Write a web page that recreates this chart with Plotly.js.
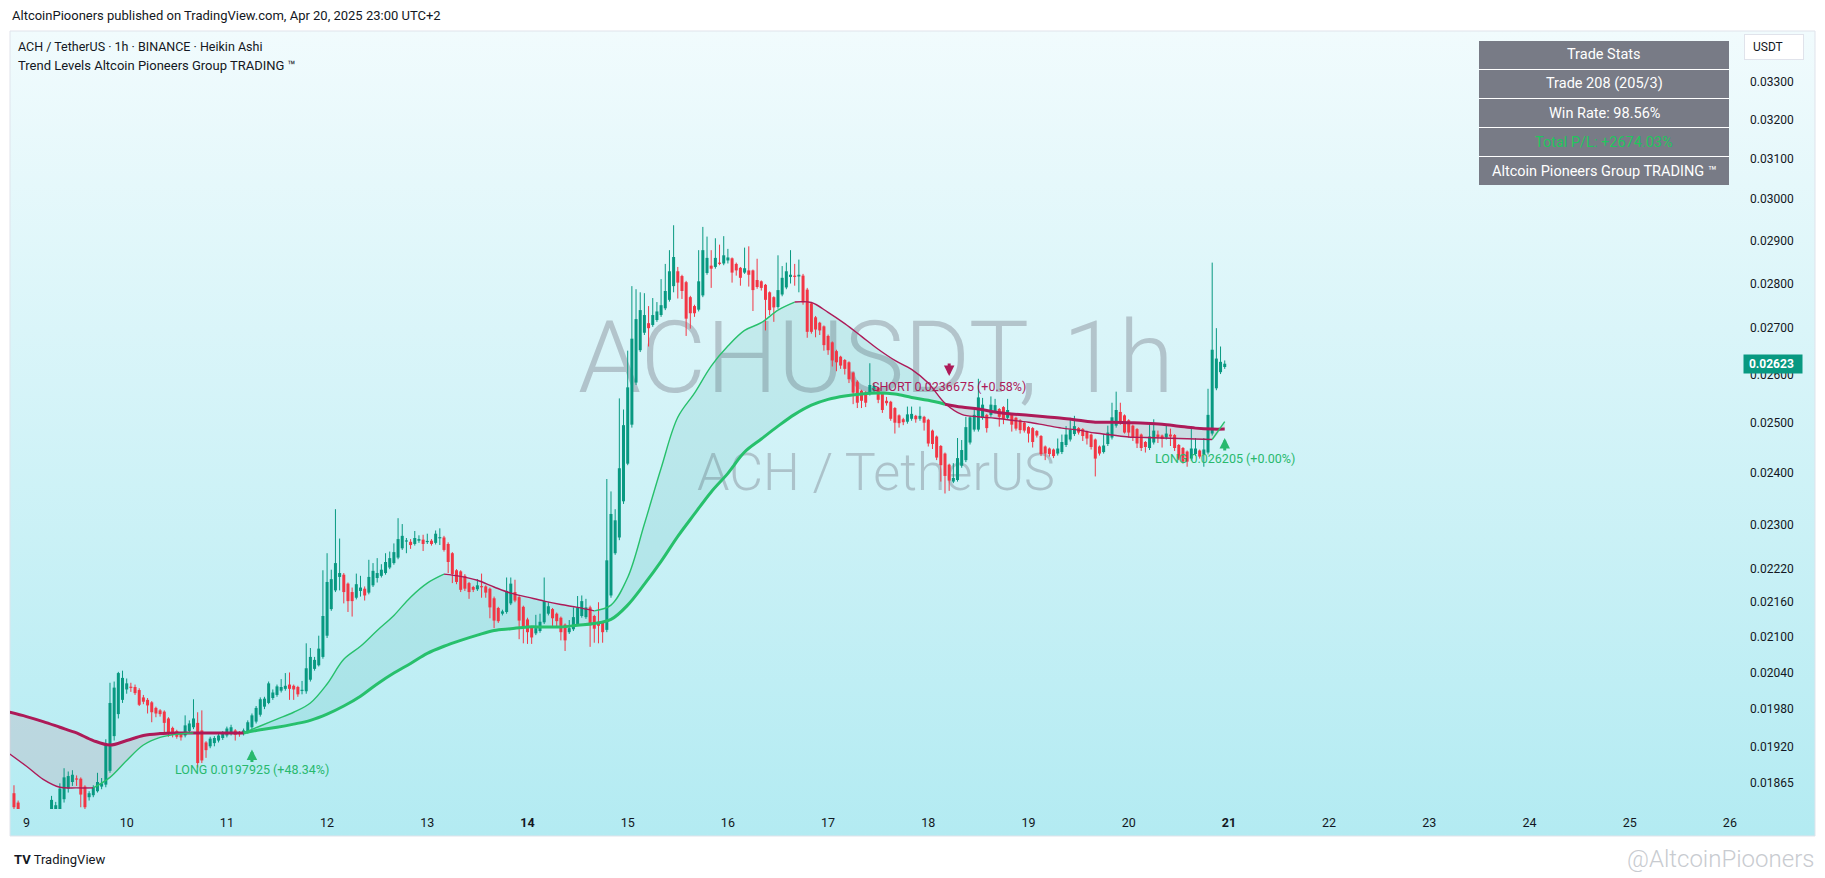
<!DOCTYPE html>
<html><head><meta charset="utf-8">
<script src="https://cdn.plot.ly/plotly-3.0.1.min.js"></script>
<style>
html,body{margin:0;padding:0;background:#fff;width:1825px;height:878px;overflow:hidden;}
#bg{position:absolute;left:10px;top:31px;width:1805px;height:805px;background:linear-gradient(to bottom,#f1fbfd 0%,#b3ebf2 100%);}
#chart{position:absolute;left:0;top:0;width:1825px;height:878px;}
</style></head><body>
<div id="bg"></div><div id="chart"></div>
<script>
// ---------------- DATA ----------------
// Heikin Ashi 1h candles, ACH/USDT, from 2025-04-08 21:00 to 2025-04-20 23:00
const open = [
.01849,.01835,.01820,
.01803,.01787,.01775,.01782,.01791,.01786,.01800,.01818,.01825,.01840,.01856,.01866,.01871,.01871,.01859,.01843,.01846,.01852,.01859,.01862,.01883,.01937,.01972,.01995,
.02012,.02016,.02016,.02011,.01999,.01995,.01991,.01982,.01978,.01976,.01965,.01950,.01945,.01941,.01938,.01945,.01951,.01958,.01946,.01927,.01921,.01926,.01930,.01934,
.01938,.01941,.01946,.01943,.01941,.01944,.01951,.01960,.01971,.01984,.01990,.01998,.02003,.02010,.02013,.02020,.02018,.02016,.02010,.02009,.02028,.02046,.02052,.02066,
.02102,.02148,.02181,.02205,.02209,.02193,.02178,.02168,.02180,.02184,.02177,.02190,.02203,.02207,.02212,.02222,.02230,.02240,.02257,.02270,.02269,.02265,.02271,.02273,
.02269,.02271,.02267,.02276,.02277,.02265,.02248,.02217,.02215,.02207,.02194,.02187,.02183,.02188,.02188,.02184,.02167,.02150,.02140,.02143,.02158,.02178,.02169,.02152,
.02130,.02117,.02106,.02110,.02125,.02140,.02148,.02140,.02133,.02121,.02108,.02113,.02122,.02136,.02134,.02151,.02136,.02126,.02124,.02112,.02172,.02248,.02277,.02345,
.02418,.02496,.02583,.02652,.02690,.02711,.02707,.02718,.02729,.02744,.02763,.02794,.02828,.02817,.02803,.02769,.02749,.02741,.02773,.02824,.02841,.02838,.02848,.02846,
.02853,.02858,.02845,.02836,.02825,.02830,.02830,.02808,.02805,.02797,.02780,.02769,.02747,.02775,.02791,.02815,.02818,.02816,.02818,.02786,.02755,.02724,.02712,.02704,
.02683,.02669,.02650,.02638,.02631,.02626,.02604,.02585,.02566,.02562,.02560,.02566,.02572,.02560,.02545,.02543,.02530,.02515,.02507,.02502,.02508,.02514,.02508,.02512,
.02506,.02484,.02472,.02453,.02438,.02416,.02383,.02386,.02414,.02425,.02460,.02486,.02486,.02510,.02516,.02516,.02522,.02528,.02532,.02510,.02516,.02510,.02505,.02500,
.02491,.02489,.02483,.02473,.02452,.02448,.02446,.02438,.02441,.02455,.02466,.02477,.02489,.02487,.02482,.02476,.02466,.02452,.02441,.02457,.02470,.02494,.02522,.02515,
.02505,.02494,.02487,.02476,.02461,.02449,.02460,.02476,.02474,.02470,.02476,.02475,.02455,.02449,.02442,.02428,.02437,.02444,.02436,.02440,.02478,.02571,.02605,.02616
];
const high = [
.01861,.01838,.01823,
.01810,.01795,.01800,.01812,.01808,.01815,.01845,.01836,.01864,.01887,.01882,.01884,.01876,.01873,.01861,.01852,.01861,.01880,.01872,.01932,.02023,.02025,.02041,.02043,
.02030,.02023,.02020,.02014,.02003,.01998,.01993,.01984,.01980,.01978,.01967,.01952,.01947,.01943,.01970,.01962,.01996,.01975,.01978,.01929,.01936,.01937,.01941,.01945,
.01952,.01955,.01948,.01945,.01949,.01962,.01973,.01985,.01999,.02000,.02025,.02012,.02020,.02029,.02039,.02040,.02020,.02018,.02026,.02089,.02081,.02066,.02102,.02217,
.02248,.02218,.02330,.02275,.02212,.02195,.02186,.02211,.02207,.02188,.02236,.02230,.02239,.02228,.02248,.02251,.02266,.02313,.02302,.02276,.02274,.02289,.02281,.02282,
.02284,.02274,.02290,.02294,.02280,.02268,.02250,.02219,.02217,.02210,.02196,.02189,.02201,.02211,.02190,.02186,.02170,.02152,.02147,.02204,.02204,.02200,.02172,.02154,
.02133,.02119,.02138,.02140,.02204,.02160,.02150,.02142,.02135,.02123,.02129,.02151,.02171,.02172,.02166,.02154,.02138,.02160,.02126,.02388,.02364,.02330,.02550,.02527,
.02651,.02794,.02787,.02780,.02778,.02749,.02767,.02758,.02810,.02845,.02877,.02936,.02838,.02820,.02806,.02772,.02752,.02877,.02932,.02909,.02877,.02905,.02890,.02910,
.02880,.02860,.02848,.02838,.02883,.02886,.02832,.02857,.02807,.02799,.02782,.02771,.02865,.02840,.02848,.02877,.02845,.02855,.02822,.02790,.02758,.02727,.02714,.02706,
.02686,.02671,.02653,.02640,.02633,.02628,.02606,.02588,.02568,.02565,.02624,.02582,.02574,.02562,.02553,.02545,.02532,.02517,.02510,.02533,.02533,.02516,.02533,.02514,
.02508,.02486,.02474,.02455,.02440,.02418,.02419,.02469,.02465,.02512,.02513,.02526,.02591,.02551,.02518,.02554,.02549,.02530,.02534,.02549,.02518,.02512,.02507,.02502,
.02493,.02491,.02485,.02475,.02454,.02450,.02448,.02468,.02476,.02493,.02510,.02514,.02491,.02489,.02484,.02478,.02468,.02454,.02477,.02494,.02541,.02564,.02541,.02517,
.02507,.02496,.02489,.02478,.02463,.02497,.02507,.02484,.02476,.02495,.02488,.02477,.02457,.02451,.02444,.02490,.02469,.02446,.02469,.02570,.02848,.02700,.02660,.02630
];
const low = [
.01818,.01800,.01775,
.01760,.01755,.01760,.01770,.01770,.01775,.01795,.01810,.01818,.01835,.01850,.01860,.01860,.01828,.01825,.01838,.01843,.01850,.01855,.01858,.01880,.01930,.01965,.01990,
.02005,.02008,.02003,.01985,.01988,.01973,.01959,.01967,.01968,.01942,.01936,.01935,.01933,.01930,.01935,.01942,.01948,.01888,.01895,.01903,.01918,.01921,.01927,.01931,
.01935,.01938,.01930,.01936,.01938,.01941,.01948,.01957,.01968,.01980,.01988,.01995,.02000,.02007,.02010,.01995,.01995,.02000,.02004,.02005,.02025,.02043,.02050,.02063,
.02098,.02145,.02178,.02181,.02158,.02143,.02135,.02165,.02170,.02163,.02174,.02187,.02195,.02204,.02209,.02219,.02227,.02237,.02254,.02248,.02256,.02262,.02267,.02252,
.02265,.02262,.02264,.02263,.02251,.02212,.02194,.02192,.02178,.02180,.02166,.02178,.02180,.02168,.02168,.02132,.02115,.02124,.02137,.02140,.02155,.02160,.02096,.02089,
.02088,.02088,.02103,.02107,.02122,.02137,.02118,.02117,.02094,.02076,.02105,.02110,.02119,.02133,.02131,.02083,.02090,.02089,.02090,.02108,.02168,.02245,.02272,.02340,
.02415,.02490,.02578,.02648,.02685,.02660,.02703,.02714,.02725,.02740,.02759,.02780,.02766,.02765,.02683,.02699,.02725,.02737,.02769,.02820,.02790,.02834,.02842,.02842,
.02846,.02802,.02818,.02795,.02822,.02793,.02738,.02788,.02784,.02695,.02729,.02714,.02743,.02771,.02787,.02800,.02795,.02780,.02752,.02679,.02688,.02680,.02685,.02651,
.02642,.02617,.02607,.02612,.02600,.02582,.02538,.02530,.02530,.02532,.02556,.02562,.02540,.02520,.02535,.02504,.02478,.02490,.02495,.02498,.02504,.02500,.02504,.02484,
.02452,.02447,.02425,.02383,.02360,.02365,.02380,.02383,.02410,.02421,.02456,.02482,.02482,.02506,.02480,.02512,.02519,.02492,.02497,.02506,.02482,.02484,.02478,.02480,
.02460,.02450,.02470,.02433,.02425,.02432,.02429,.02434,.02437,.02451,.02462,.02473,.02476,.02463,.02456,.02446,.02393,.02434,.02438,.02453,.02466,.02490,.02496,.02478,
.02470,.02463,.02449,.02443,.02440,.02445,.02456,.02459,.02450,.02466,.02453,.02443,.02425,.02418,.02412,.02424,.02433,.02428,.02412,.02436,.02474,.02567,.02601,.02612
];
const close = [
.01828,.01805,.01785,
.01770,.01762,.01790,.01800,.01780,.01805,.01839,.01831,.01856,.01873,.01875,.01877,.01870,.01847,.01828,.01849,.01858,.01866,.01864,.01924,.01990,.02015,.02039,.02031,
.02022,.02015,.02006,.01987,.01992,.01986,.01975,.01973,.01972,.01958,.01942,.01939,.01936,.01935,.01954,.01957,.01965,.01895,.01899,.01915,.01933,.01934,.01938,.01942,
.01949,.01951,.01939,.01940,.01946,.01959,.01970,.01982,.01996,.01997,.02022,.02007,.02017,.02016,.02018,.02013,.02012,.02004,.02011,.02047,.02066,.02061,.02080,.02136,
.02196,.02201,.02230,.02212,.02178,.02162,.02162,.02192,.02186,.02172,.02205,.02216,.02212,.02218,.02232,.02239,.02250,.02274,.02280,.02271,.02263,.02276,.02274,.02265,
.02270,.02265,.02284,.02277,.02254,.02232,.02210,.02196,.02182,.02184,.02178,.02182,.02190,.02187,.02177,.02151,.02128,.02127,.02144,.02180,.02193,.02163,.02128,.02118,
.02108,.02099,.02115,.02126,.02162,.02153,.02132,.02127,.02108,.02094,.02115,.02134,.02151,.02162,.02151,.02120,.02114,.02119,.02108,.02235,.02321,.02309,.02409,.02495,
.02573,.02677,.02720,.02740,.02729,.02700,.02729,.02737,.02751,.02783,.02828,.02861,.02802,.02783,.02721,.02733,.02733,.02805,.02877,.02859,.02834,.02859,.02845,.02865,
.02860,.02825,.02830,.02813,.02835,.02820,.02785,.02792,.02790,.02763,.02740,.02746,.02785,.02813,.02828,.02820,.02815,.02820,.02757,.02692,.02692,.02697,.02695,.02663,
.02652,.02630,.02626,.02619,.02612,.02590,.02562,.02541,.02545,.02541,.02578,.02576,.02547,.02526,.02540,.02508,.02500,.02499,.02501,.02517,.02518,.02507,.02514,.02500,
.02458,.02457,.02430,.02415,.02394,.02385,.02390,.02429,.02445,.02491,.02511,.02516,.02552,.02537,.02489,.02537,.02536,.02512,.02508,.02526,.02496,.02488,.02485,.02484,
.02478,.02461,.02474,.02437,.02438,.02437,.02433,.02448,.02461,.02476,.02486,.02493,.02480,.02473,.02468,.02451,.02428,.02438,.02454,.02480,.02511,.02526,.02500,.02480,
.02480,.02471,.02458,.02449,.02451,.02472,.02484,.02471,.02467,.02478,.02472,.02449,.02428,.02422,.02422,.02448,.02448,.02432,.02446,.02516,.02653,.02634,.02627,.02623
];
// Trend Levels moving averages, read every 4 hours from 2025-04-08 20:00 (last point = last bar)
const maFast = [.01909,.01890,.01870,.01858,.01857,.01857,.01873,.01899,.01923,.01935,.01940,.01942,.01942,.01942,.01942,.01953,.01964,.01975,.01990,.02021,.02062,.02084,.02111,.02137,.02169,.02194,.02210,.02206,.02199,.02187,.02176,.02169,.02162,.02156,.02151,.02145,.02155,.02204,.02302,.02409,.02511,.02561,.02618,.02661,.02695,.02712,.02740,.02758,.02757,.02735,.02710,.02682,.02654,.02630,.02611,.02582,.02540,.02517,.02512,.02509,.02505,.02501,.02495,.02489,.02485,.02479,.02475,.02471,.02470,.02469,.02468,.02467,.02466,.02502];
const maSlow = [.01975,.01968,.01960,.01951,.01942,.01930,.01923,.01930,.01938,.01941,.01942,.01942,.01942,.01942,.01942,.01947,.01951,.01956,.01962,.01972,.01985,.02001,.02021,.02039,.02055,.02072,.02084,.02094,.02103,.02111,.02114,.02117,.02117,.02117,.02120,.02123,.02130,.02155,.02192,.02233,.02279,.02321,.02363,.02399,.02441,.02467,.02493,.02517,.02536,.02548,.02555,.02559,.02561,.02559,.02552,.02546,.02538,.02532,.02528,.02522,.02518,.02515,.02512,.02509,.02505,.02501,.02501,.02500,.02499,.02497,.02493,.02489,.02487,.02487];
// Trade signals
const signalType  = ['LONG', 'SHORT', 'LONG'];
const signalTime  = ['2025-04-11 06:00', '2025-04-18 05:00', '2025-04-20 23:00'];
const signalPrice = [0.0197925, 0.0236675, 0.026205];
const signalPct   = ['+48.34%', '+0.58%', '+0.00%'];
// Axis ticks
const priceTicks = [0.01865,0.0192,0.0198,0.0204,0.021,0.0216,0.0222,0.023,0.024,0.025,0.026,0.027,0.028,0.029,0.030,0.031,0.032,0.033];
const dayTicks = ['2025-04-09','2025-04-10','2025-04-11','2025-04-12','2025-04-13','2025-04-14','2025-04-15','2025-04-16','2025-04-17','2025-04-18','2025-04-19','2025-04-20','2025-04-21','2025-04-22','2025-04-23','2025-04-24','2025-04-25','2025-04-26'];
const dayLabels = ['9','10','11','12','13','14','15','16','17','18','19','20','21','22','23','24','25','26'];
const lastPrice = 0.02623;
const statsRows = ['Trade Stats','Trade 208 (205/3)','Win Rate: 98.56%','Total P/L: +2674.03%','Altcoin Pioneers Group TRADING \u2122'];

// ---------------- STYLE / LAYOUT ----------------
const UP='#089981', DN='#f23645', MA_UP='#27c06c', MA_DN='#ad1a58', LONG_C='#28b96e';
const FILL_UP='rgba(38,166,154,0.13)', FILL_DN='rgba(190,165,180,0.30)';
const WM='rgba(120,123,134,0.40)';
const FONT='Roboto, "Noto Sans", sans-serif';
const PL=10, PR=1742, PT=31, PB=809;
const px2x = px => (px-PL)/(PR-PL);
const px2y = py => (PB-py)/(PB-PT);
const H=3600e3;
const fmt = ms => new Date(ms).toISOString().slice(0,16).replace('T',' ');
const firstBar = Date.UTC(2025,3,8,21);
const times = close.map((_,i)=>fmt(firstBar+i*H));
const maStart = Date.UTC(2025,3,8,20);
const maTimes = maFast.map((_,i)=> i<maFast.length-1 ? fmt(maStart+4*i*H) : times[times.length-1]);
const xr=[Date.UTC(2025,3,8,20,3), Date.UTC(2025,3,26,2,54)];
const yr=[0.018254, 0.03439];
const ylog=[Math.log10(yr[0]), Math.log10(yr[1])];
const pyToPrice = py => Math.pow(10, ylog[1] - (py-PT)/(PB-PT)*(ylog[1]-ylog[0]));
const xMid = fmt((xr[0]+xr[1])/2);

const traces=[];
// watermark (drawn first, under everything)
traces.push({type:'scatter',mode:'text',x:[xMid],y:[pyToPrice(367)],text:['ACHUSDT, 1h'],textposition:'middle center',
  textfont:{family:FONT,size:101,weight:300,color:WM},hoverinfo:'skip',cliponaxis:false});
traces.push({type:'scatter',mode:'text',x:[xMid],y:[pyToPrice(477)],text:['ACH / TetherUS'],textposition:'middle center',
  textfont:{family:FONT,size:52,weight:300,color:WM},hoverinfo:'skip',cliponaxis:false});

function runs(n,key){const out=[];let s=0;for(let i=1;i<=n;i++){if(i===n||key(i)!==key(s)){out.push([s,i,key(s)]);s=i;}}return out;}
const nSeg = maFast.length-1;
const bull = i => (maFast[i]+maFast[i+1]) > (maSlow[i]+maSlow[i+1]);
// fills between the two averages
runs(nSeg,bull).forEach(([s,e,b])=>{
  traces.push({type:'scatter',mode:'lines',x:maTimes.slice(s,e+1),y:maSlow.slice(s,e+1),line:{width:0,shape:'spline'},hoverinfo:'skip'});
  traces.push({type:'scatter',mode:'lines',x:maTimes.slice(s,e+1),y:maFast.slice(s,e+1),line:{width:0,shape:'spline'},fill:'tonexty',fillcolor:b?FILL_UP:FILL_DN,hoverinfo:'skip'});
});

// candles
const wick={up:{x:[],y:[]},dn:{x:[],y:[]}}, body={up:{x:[],y:[]},dn:{x:[],y:[]}};
const minR=Math.exp(1.2/1228);
close.forEach((c,i)=>{
  const o=open[i], k=c>=o?'up':'dn';
  wick[k].x.push(times[i],times[i],null); wick[k].y.push(low[i],high[i],null);
  let lo=Math.min(o,c), hi=Math.max(o,c);
  if(hi/lo<minR){const m=Math.sqrt(lo*hi); lo=m/Math.sqrt(minR); hi=m*Math.sqrt(minR);}
  body[k].x.push(times[i],times[i],null); body[k].y.push(lo,hi,null);
});
[['up',UP],['dn',DN]].forEach(([k,col])=>{
  traces.push({type:'scatter',mode:'lines',x:wick[k].x,y:wick[k].y,line:{color:col,width:1},hoverinfo:'skip',connectgaps:false});
  traces.push({type:'scatter',mode:'lines',x:body[k].x,y:body[k].y,line:{color:col,width:3},hoverinfo:'skip',connectgaps:false});
});

// average lines
runs(nSeg,bull).forEach(([s,e,b])=>{
  traces.push({type:'scatter',mode:'lines',x:maTimes.slice(s,e+1),y:maSlow.slice(s,e+1),line:{width:3,color:b?MA_UP:MA_DN,shape:'spline'},hoverinfo:'skip'});
});
runs(nSeg,i=>maFast[i+1]>maFast[i]).forEach(([s,e,r])=>{
  traces.push({type:'scatter',mode:'lines',x:maTimes.slice(s,e+1),y:maFast.slice(s,e+1),line:{width:1.4,color:r?MA_UP:MA_DN,shape:'spline'},hoverinfo:'skip'});
});

// annotations
const ann=[];
const txt=(x,y,text,opt={})=>ann.push(Object.assign({xref:'paper',yref:'paper',x:px2x(x),y:px2y(y),text,showarrow:false,xanchor:'left',yanchor:'middle',font:{family:FONT,size:12,color:'#131722'}},opt));
txt(10,15,'AltcoinPiooners published on TradingView.com, Apr 20, 2025 23:00 UTC+2',{font:{family:FONT,size:13,color:'#131722'}});
txt(16,47,'ACH / TetherUS \u00b7 1h \u00b7 BINANCE \u00b7 Heikin Ashi',{font:{family:FONT,size:12.5,color:'#131722'}});
txt(16,66,'Trend Levels Altcoin Pioneers Group TRADING \u2122',{font:{family:FONT,size:13,color:'#131722'}});
// signal labels (offsets in px relative to entry price)
const sigArrow=[-40,114,-73], sigText=[-60,103,-94];
signalType.forEach((t,i)=>{
  const col = t==='LONG'?LONG_C:MA_DN;
  const yv = Math.log10(signalPrice[i]);
  ann.push({xref:'x',yref:'y',x:signalTime[i],y:yv,yshift:sigText[i],text:`${t} ${signalPrice[i]} (${signalPct[i]})`,showarrow:false,xanchor:'center',yanchor:'middle',font:{family:FONT,size:12.5,color:col}});
  ann.push({xref:'x',yref:'y',x:signalTime[i],y:yv,yshift:sigArrow[i],text:'',showarrow:true,ax:0,ay:t==='LONG'?14:-14,arrowhead:2,arrowsize:0.7,arrowwidth:3,arrowcolor:col,standoff:0});
});
// last price tag
ann.push({xref:'paper',yref:'y',x:1,xshift:1,xanchor:'left',y:Math.log10(lastPrice),yanchor:'middle',text:'\u00a0<b>'+lastPrice.toFixed(5)+'</b>\u00a0\u00a0',showarrow:false,bgcolor:UP,borderpad:2,font:{family:FONT,size:12,color:'#ffffff'}});
// USDT box
txt(1744,47,'\u00a0USDT\u00a0\u00a0\u00a0\u00a0\u00a0',{bgcolor:'#ffffff',bordercolor:'#e0e3eb',borderwidth:1,borderpad:5,font:{family:FONT,size:12,color:'#131722'}});
// stats table
const rowsY=[[41,69],[70,98],[99,127],[128,156],[157,185]];
const shapes=[];
shapes.push({type:'rect',xref:'paper',yref:'paper',x0:px2x(10),x1:px2x(1815),y0:px2y(836),y1:px2y(31),line:{color:'#e0e3eb',width:1},fillcolor:'rgba(0,0,0,0)',layer:'below'});
shapes.push({type:'rect',xref:'paper',yref:'paper',x0:px2x(1479),x1:px2x(1729),y0:px2y(185),y1:px2y(41),line:{width:0},fillcolor:'#ffffff'});
statsRows.forEach((r,i)=>{
  const [a,b]=rowsY[i];
  shapes.push({type:'rect',xref:'paper',yref:'paper',x0:px2x(1479),x1:px2x(1729),y0:px2y(b),y1:px2y(a),line:{width:0},fillcolor:'#787b86'});
  txt(1604,(a+b)/2,r,{xanchor:'center',font:{family:FONT,size:14.5,color:i===3?'#22c55e':'#ffffff'}});
});
// footer
txt(12,859,'<b>TV</b> TradingView',{font:{family:FONT,size:13,color:'#131722'}});
txt(1816,859,'@AltcoinPiooners',{xanchor:'right',font:{family:FONT,size:24,weight:300,color:'#c8cbd0'}});

const layout={
  width:1825,height:878,margin:{l:PL,r:1825-PR,t:PT,b:878-PB},
  paper_bgcolor:'rgba(0,0,0,0)',plot_bgcolor:'rgba(0,0,0,0)',showlegend:false,hovermode:false,
  font:{family:FONT,color:'#131722'},
  xaxis:{type:'date',range:[fmt(xr[0]),fmt(xr[1])],tickmode:'array',tickvals:dayTicks,
    ticktext:dayLabels.map((l,i)=>new Date(dayTicks[i]+'T00:00:00Z').getUTCDay()===1?'<b>'+l+'</b>':l),
    showgrid:false,zeroline:false,showline:false,ticks:'',tickfont:{size:12.5,color:'#131722'},ticklabelstandoff:4},
  yaxis:{type:'log',side:'right',range:ylog,tickmode:'array',tickvals:priceTicks,ticktext:priceTicks.map(v=>v.toFixed(5)),
    showgrid:false,zeroline:false,showline:false,ticks:'',tickfont:{size:12,color:'#131722'},ticklabelstandoff:7},
  annotations:ann,shapes:shapes
};
Plotly.newPlot('chart',traces,layout,{staticPlot:true,displayModeBar:false});
</script></body></html>
